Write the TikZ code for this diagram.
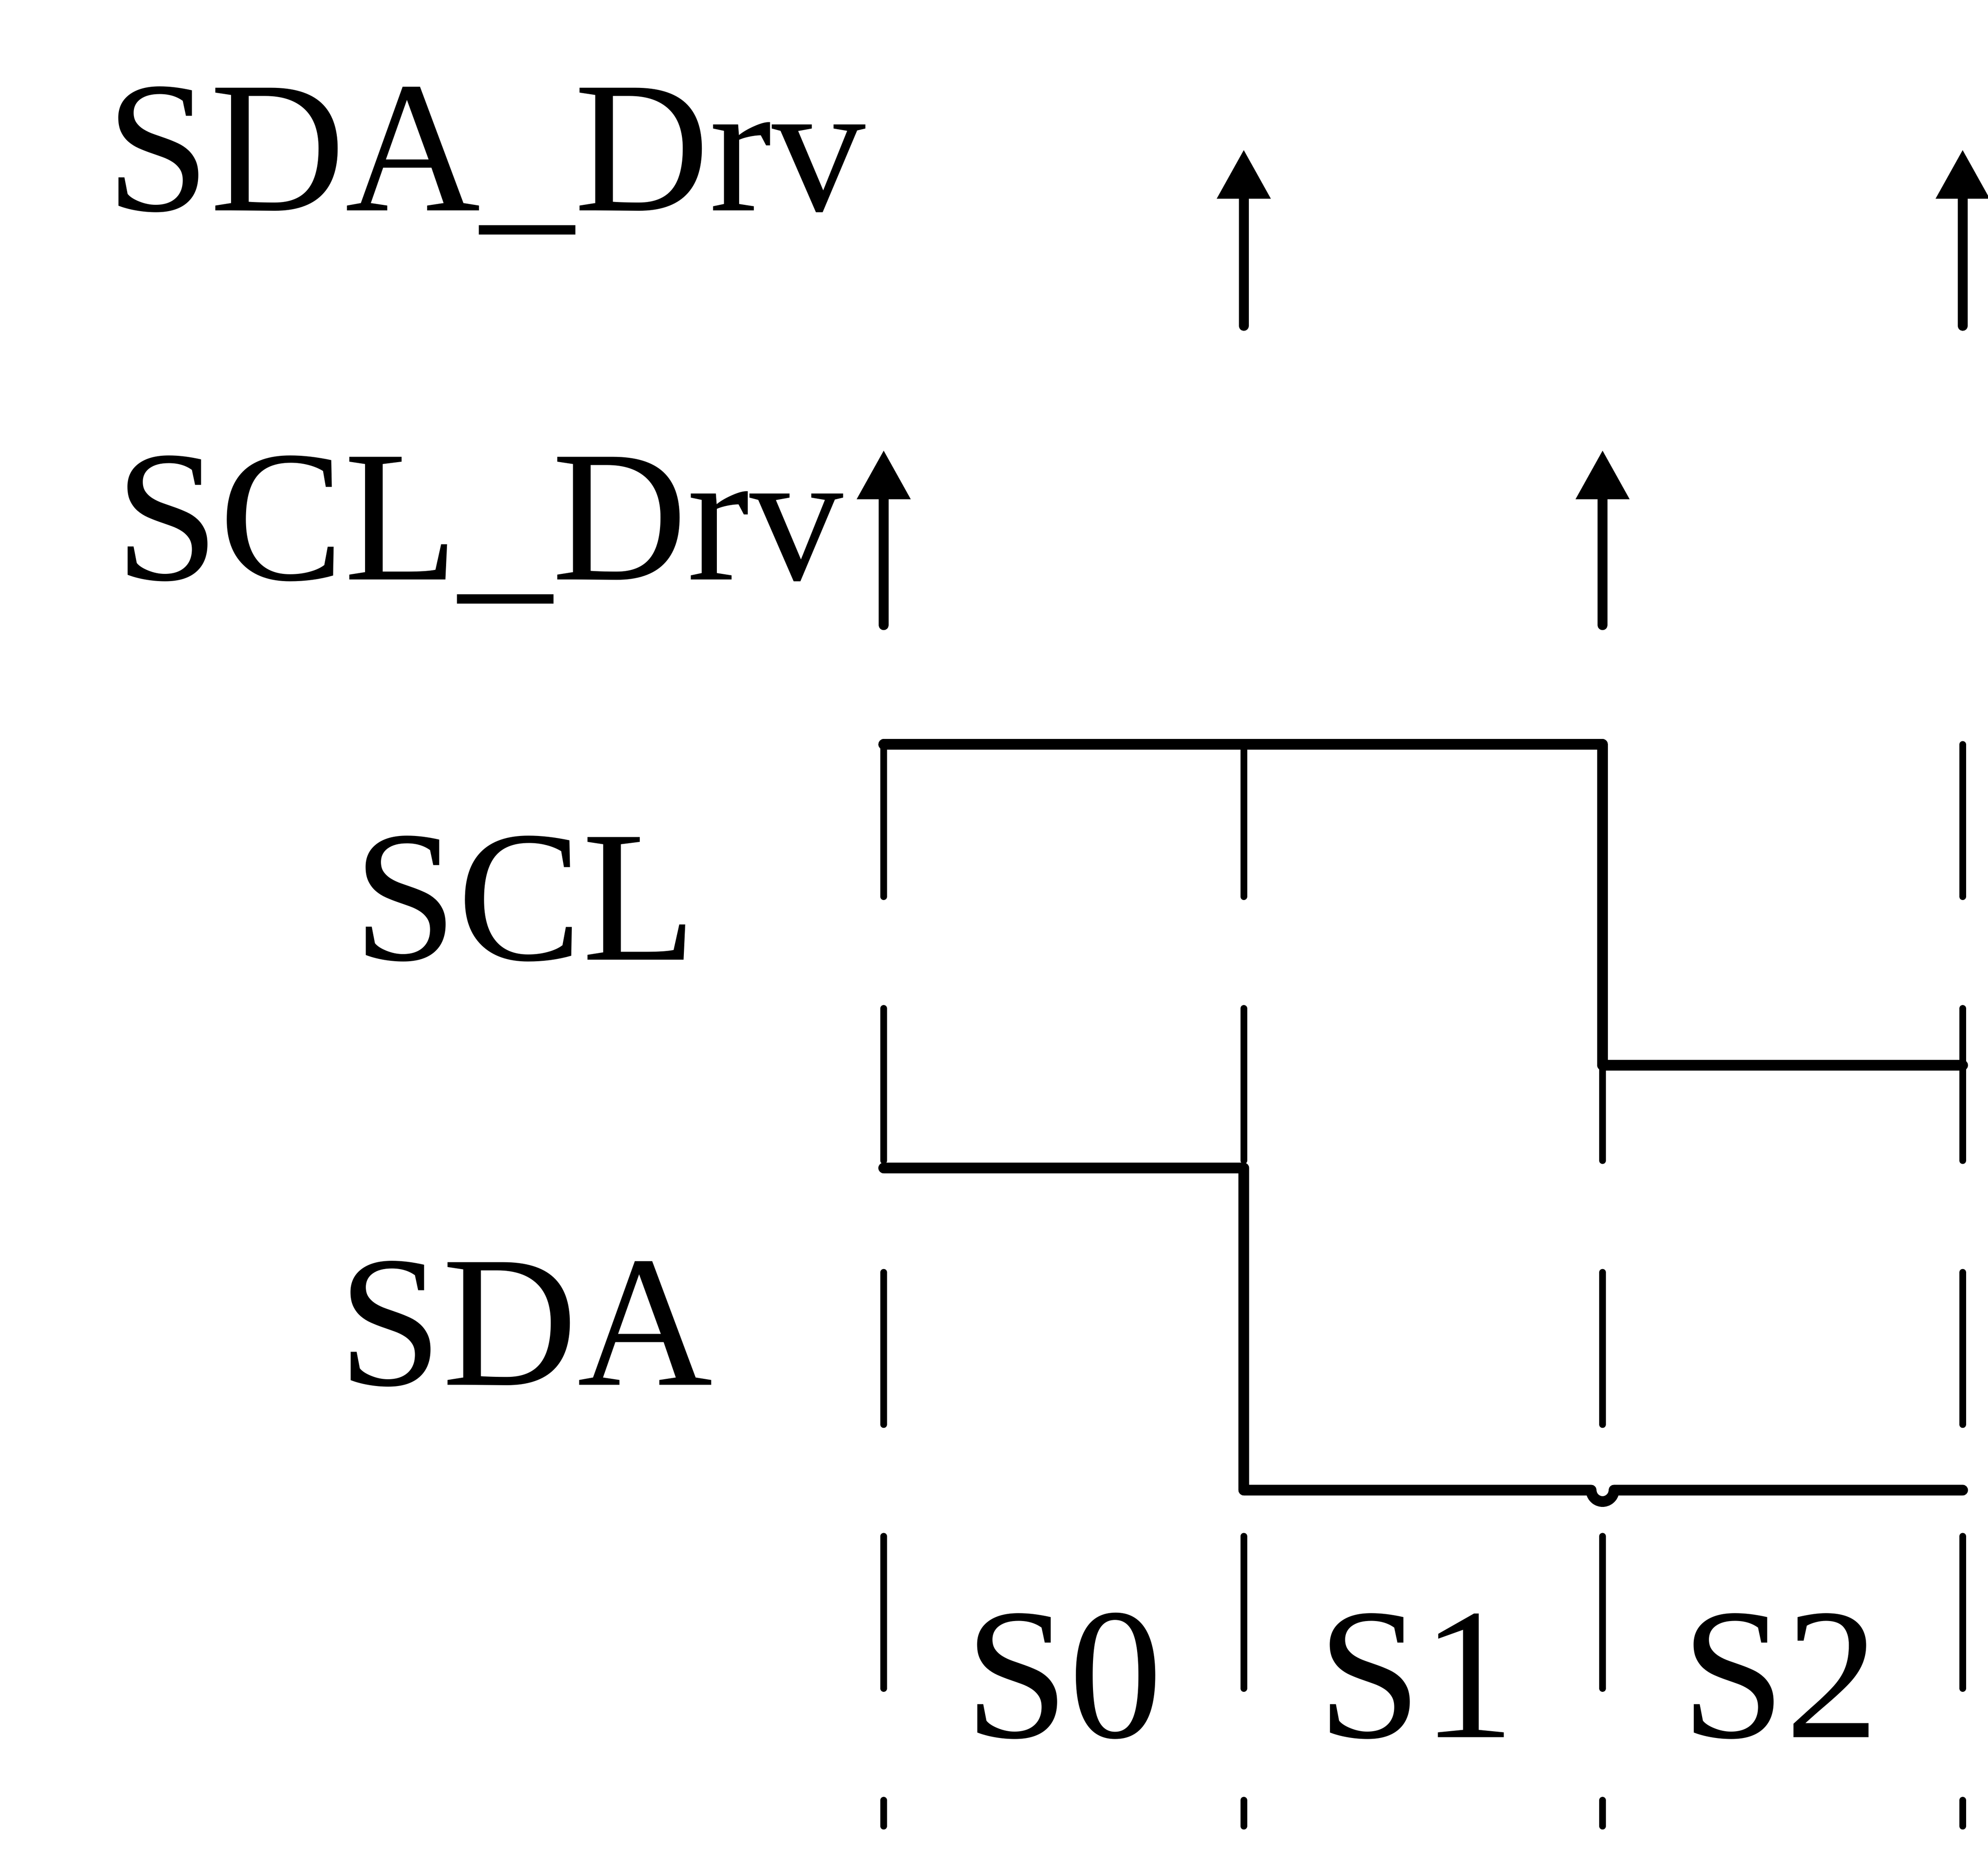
\documentclass[tikz,border=0pt]{standalone}
\usepackage{fontspec}
\setmainfont{Liberation Serif}
\usetikzlibrary{arrows.meta}
\begin{document}
\begin{tikzpicture}[x=0.01cm,y=-0.01cm,
  lbl/.style={anchor=base west,inner sep=0pt,font=\fontsize{42}{42}\selectfont},
  slbl/.style={anchor=base,inner sep=0pt,font=\fontsize{42}{42}\selectfont},
  sig/.style={line width=2.4pt,line cap=round,line join=round},
  grid/.style={line width=1.5pt,line cap=round,dash pattern=on 1.2cm off 0.88cm},
  drv/.style={line width=2.2pt,line cap=round,-{Triangle[width=11.5pt,length=11pt]}}]
\useasboundingbox (0,0) rectangle (1568,1476);
\node[lbl] (tsdadrv) at (83,166) {SDA\_Drv};
\node[lbl] (tscldrv) at (90,457) {SCL\_Drv};
\node[lbl] (tscl) at (278,757) {SCL};
\node[lbl] (tsda) at (266,1092) {SDA};
\node[slbl] (s0) at (839,1370) {S0};
\node[slbl] (s1) at (1117,1370) {S1};
\node[slbl] (s2) at (1404,1370) {S2};
\foreach \x/\n in {697/a,981/b,1264/c,1548/d}{
  \coordinate (t\n) at (\x,587); \coordinate (b\n) at (\x,1440);
  \draw[grid] (t\n) -- (b\n);}
\coordinate (a1) at (697,493); \coordinate (a1t) at (697,355);
\coordinate (a2) at (1264,493); \coordinate (a2t) at (1264,355);
\coordinate (a3) at (981,257); \coordinate (a3t) at (981,118);
\coordinate (a4) at (1548,257); \coordinate (a4t) at (1548,118);
\draw[drv] (a1) -- (a1t);
\draw[drv] (a2) -- (a2t);
\draw[drv] (a3) -- (a3t);
\draw[drv] (a4) -- (a4t);
\draw[sig] (697,587) -- (1264,587) -- (1264,840) -- (1548,840);
\draw[sig] (697,921) -- (981,921) -- (981,1175) -- (1255,1175) arc[start angle=180,end angle=0,radius=9] -- (1548,1175);
\end{tikzpicture}
\end{document}
